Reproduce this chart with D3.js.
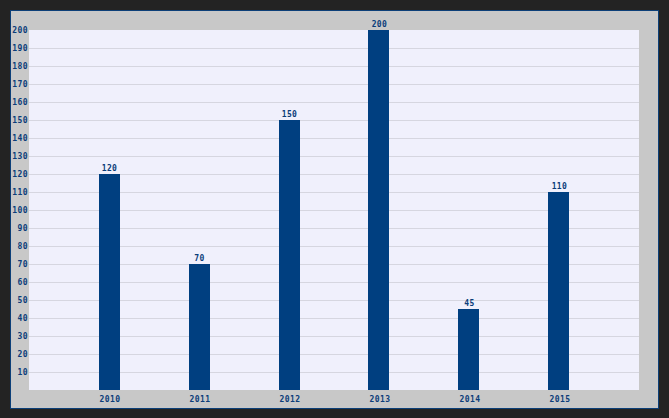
<!DOCTYPE html>
<html>
<head>
<meta charset="utf-8">
<script src="https://cdn.jsdelivr.net/npm/d3@7"></script>
<style>
  html, body { margin: 0; padding: 0; background: #232323; }
  svg { display: block; }
  text { font-family: "DejaVu Sans Mono", monospace; font-weight: bold; font-size: 8px;
         letter-spacing: 0.4px; fill: #0b3d7a; }
</style>
</head>
<body>
<div id="chart"></div>
<script>
"use strict";

// Chart data
const years = ['2010', '2011', '2012', '2013', '2014', '2015'];
const values = [120, 70, 150, 200, 45, 110];
const yTicks = [10, 20, 30, 40, 50, 60, 70, 80, 90, 100,
    110, 120, 130, 140, 150, 160, 170, 180, 190, 200];

const WIDTH = 669, HEIGHT = 418;
let panel = {left: 10, top: 10, right: 659, bottom: 409};
let margin = {left: 29, top: 30, right: 30, bottom: 28};
let chartWidth = WIDTH - margin.left - margin.right;
let chartHeight = HEIGHT - margin.top - margin.bottom;

let svg = d3.select('#chart').append('svg')
    .attr('width', WIDTH)
    .attr('height', HEIGHT);

svg.append('rect')  // Dark page background
    .attr('width', WIDTH).attr('height', HEIGHT)
    .attr('fill', '#232323');

svg.append('rect')  // Gray panel with thin dark blue border
    .attr('x', panel.left + 0.5).attr('y', panel.top + 0.5)
    .attr('width', panel.right - panel.left - 1)
    .attr('height', panel.bottom - panel.top - 1)
    .attr('fill', '#c8c8c8')
    .attr('stroke', '#0c3f78')
    .attr('stroke-width', 1);

let x = d3.scalePoint()
    .domain(years)
    .range([0, chartWidth])
    .padding(0.889);  // Gives a 90px step between bars
let y = d3.scaleLinear()
    .domain([0, 200])
    .range([chartHeight, 0]);
const BAR_W = 21;

let chartGroup = svg.append('g')
    .attr('transform', 'translate(' + margin.left + ',' + margin.top + ')');

chartGroup.append('rect')  // Plot area
    .attr('width', chartWidth)
    .attr('height', chartHeight)
    .attr('fill', '#f0f0fc');

// Horizontal grid lines, no labels
chartGroup.append('g')
    .attr('class', 'grid')
    .call(d3.axisLeft(y).tickValues(yTicks.slice(0, -1))
        .tickSize(-chartWidth).tickFormat(''))
    .call(function (g) {
        g.select('.domain').remove();
        g.selectAll('line').attr('stroke', '#d6d6e0');
    });

chartGroup.selectAll('rect.bar')
  .data(values)
  .enter().append('rect')
    .classed('bar', true)
    .attr('x', function (d, i) { return Math.round(x(years[i]) - BAR_W / 2); })
    .attr('y', function (d) { return y(d); })
    .attr('width', BAR_W)
    .attr('height', function (d) { return chartHeight - y(d); })
    .attr('fill', '#003f80');

chartGroup.selectAll('text.value')
  .data(values)
  .enter().append('text')
    .classed('value', true)
    .attr('text-anchor', 'middle')
    .attr('x', function (d, i) { return x(years[i]) + 0.5; })
    .attr('y', function (d) { return y(d) - 3; })
    .text(function (d) { return d; });

// Y axis labels
chartGroup.append('g')
    .call(d3.axisLeft(y).tickValues(yTicks).tickSize(0).tickPadding(1))
    .call(function (g) {
        g.select('.domain').remove();
        g.selectAll('text').attr('font-size', null).attr('font-family', null)
            .attr('fill', null);
    });

// X axis labels
chartGroup.append('g')
    .attr('transform', 'translate(0,' + chartHeight + ')')
    .call(d3.axisBottom(x).tickSize(0).tickPadding(6))
    .call(function (g) {
        g.select('.domain').remove();
        g.selectAll('text').attr('font-size', null).attr('font-family', null)
            .attr('fill', null)
            .attr('dx', '0.5');
    });
</script>
</body>
</html>
